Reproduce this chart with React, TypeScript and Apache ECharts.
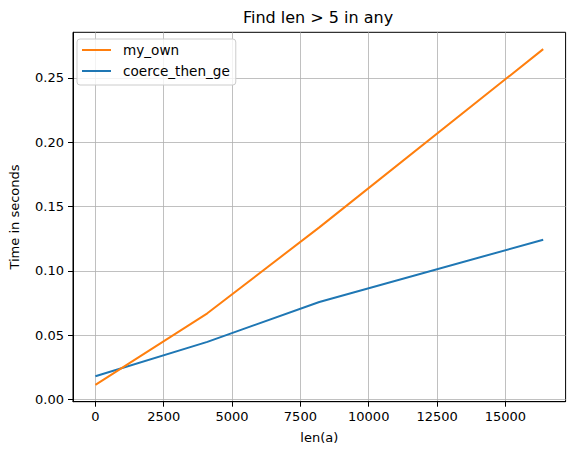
import React, { useEffect, useRef } from "react";
import * as echarts from "echarts";

const lengths = [0, 4096, 8192, 16384];
const myOwn = [0.0114, 0.067, 0.1338, 0.2723];
const coerceThenGe = [0.0181, 0.0448, 0.0758, 0.1242];
const xTicks = [0, 2500, 5000, 7500, 10000, 12500, 15000];
const yTicks = [0, 0.05, 0.1, 0.15, 0.2, 0.25];

const FONT = "DejaVu Sans";

const App: React.FC = () => {
    const chartRef = useRef<HTMLDivElement>(null);

    useEffect(() => {
        if (!chartRef.current) return;
        const chart = echarts.init(chartRef.current, undefined, { renderer: "svg" });

        const gridLine = { show: true, lineStyle: { color: "#b0b0b0", width: 0.8 } };

        const options = {
            animation: false,
            textStyle: { fontFamily: FONT },
            graphic: [
                {
                    type: "text",
                    x: 318,
                    y: 17,
                    style: {
                        text: "Find len > 5 in any",
                        fontFamily: FONT,
                        fontSize: 16,
                        fill: "#000",
                        textAlign: "center",
                        textVerticalAlign: "middle",
                    },
                },
            ],
            legend: {
                orient: "vertical",
                left: 77,
                top: 39,
                padding: [1, 6, 4, 5],
                itemGap: 1,
                itemWidth: 29,
                itemHeight: 2,
                icon: "rect",
                borderColor: "#cccccc",
                borderWidth: 1,
                borderRadius: 3,
                backgroundColor: "rgba(255,255,255,0.8)",
                textStyle: {
                    fontFamily: FONT,
                    fontSize: 13.6,
                    color: "#000",
                    lineHeight: 20,
                    padding: [0, 0, 0, 7],
                },
                data: ["my_own", "coerce_then_ge"],
            },
            grid: {
                left: 70.5,
                right: 10.4,
                top: 32.3,
                bottom: 53.3,
                show: true,
                borderColor: "#000",
                borderWidth: 1,
                backgroundColor: "transparent",
            },
            xAxis: {
                type: "value",
                min: -819.2,
                max: 17203.2,
                name: "len(a)",
                nameLocation: "middle",
                nameGap: 29,
                nameTextStyle: { fontFamily: FONT, fontSize: 13, color: "#000" },
                axisLine: { show: true, onZero: false, lineStyle: { color: "#000", width: 1 } },
                axisTick: { show: true, length: 5, customValues: xTicks, lineStyle: { color: "#000" } },
                axisLabel: {
                    customValues: xTicks,
                    margin: 8,
                    fontFamily: FONT,
                    fontSize: 13,
                    color: "#000",
                    formatter: (v: number) => String(v),
                },
                splitLine: gridLine,
            },
            yAxis: {
                type: "value",
                min: -0.0017,
                max: 0.2854,
                name: "Time in seconds",
                nameLocation: "middle",
                nameGap: 52,
                nameTextStyle: { fontFamily: FONT, fontSize: 13, color: "#000" },
                axisLine: { show: true, onZero: false, lineStyle: { color: "#000", width: 1 } },
                axisTick: { show: true, length: 5, customValues: yTicks, lineStyle: { color: "#000" } },
                axisLabel: {
                    customValues: yTicks,
                    margin: 9,
                    fontFamily: FONT,
                    fontSize: 13,
                    color: "#000",
                    formatter: (v: number) => v.toFixed(2),
                },
                splitLine: gridLine,
            },
            series: [
                {
                    name: "coerce_then_ge",
                    type: "line",
                    data: lengths.map((x, i) => [x, coerceThenGe[i]]),
                    showSymbol: false,
                    lineStyle: { color: "#1f77b4", width: 2 },
                    itemStyle: { color: "#1f77b4" },
                },
                {
                    name: "my_own",
                    type: "line",
                    data: lengths.map((x, i) => [x, myOwn[i]]),
                    showSymbol: false,
                    lineStyle: { color: "#ff7f0e", width: 2 },
                    itemStyle: { color: "#ff7f0e" },
                },
            ],
        };

        chart.setOption(options);

        return () => {
            chart.dispose();
        };
    }, []);

    return (
        <div
            ref={chartRef}
            style={{ position: "fixed", left: 0, top: 0, width: "576px", height: "455px", background: "#fff" }}
        />
    );
};

export default App;
